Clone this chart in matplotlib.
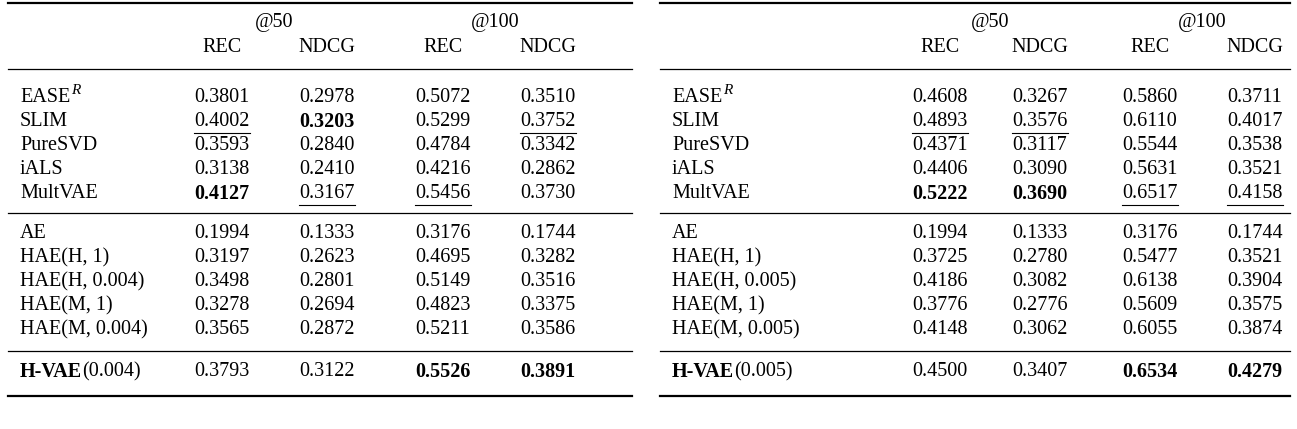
import matplotlib
matplotlib.use("Agg")
import matplotlib.pyplot as plt
from matplotlib.lines import Line2D

W, H = 1297, 429
plt.rcParams['font.family'] = ['Liberation Serif', 'DejaVu Serif']

methods = ["EASE", "SLIM", "PureSVD", "iALS", "MultVAE",
           "AE", "HAE(H, 1)", "HAE(H, {p})", "HAE(M, 1)", "HAE(M, {p})", "H-VAE"]
params = ["0.004", "0.005"]
vals_left = [
    [0.3801, 0.2978, 0.5072, 0.3510],
    [0.4002, 0.3203, 0.5299, 0.3752],
    [0.3593, 0.2840, 0.4784, 0.3342],
    [0.3138, 0.2410, 0.4216, 0.2862],
    [0.4127, 0.3167, 0.5456, 0.3730],
    [0.1994, 0.1333, 0.3176, 0.1744],
    [0.3197, 0.2623, 0.4695, 0.3282],
    [0.3498, 0.2801, 0.5149, 0.3516],
    [0.3278, 0.2694, 0.4823, 0.3375],
    [0.3565, 0.2872, 0.5211, 0.3586],
    [0.3793, 0.3122, 0.5526, 0.3891],
]
vals_right = [
    [0.4608, 0.3267, 0.5860, 0.3711],
    [0.4893, 0.3576, 0.6110, 0.4017],
    [0.4371, 0.3117, 0.5544, 0.3538],
    [0.4406, 0.3090, 0.5631, 0.3521],
    [0.5222, 0.3690, 0.6517, 0.4158],
    [0.1994, 0.1333, 0.3176, 0.1744],
    [0.3725, 0.2780, 0.5477, 0.3521],
    [0.4186, 0.3082, 0.6138, 0.3904],
    [0.3776, 0.2776, 0.5609, 0.3575],
    [0.4148, 0.3062, 0.6055, 0.3874],
    [0.4500, 0.3407, 0.6534, 0.4279],
]
bold_left = [(1, 1), (4, 0), (10, 2), (10, 3)]
under_left = [(1, 0), (1, 3), (4, 1), (4, 2)]
bold_right = [(4, 0), (4, 1), (10, 2), (10, 3)]
under_right = [(1, 0), (1, 1), (4, 2), (4, 3)]

fig = plt.figure(figsize=(W / 100, H / 100), dpi=100)
FS = 14.5

def fx(x): return x / W
def fy(y): return 1 - y / H

def hline(x0, x1, y, lw):
    fig.add_artist(Line2D([fx(x0), fx(x1)], [fy(y), fy(y)], color='black', lw=lw,
                          transform=fig.transFigure))

row_y = [98, 122, 146, 170, 194, 234, 258, 282, 306, 330, 372]
underlines = []

def table(x0, x1, lx, cols, vals, bold, under, param):
    hline(x0, x1, 3, 1.6)
    hline(x0, x1, 69, 0.9)
    hline(x0, x1, 213, 0.9)
    hline(x0, x1, 351, 0.9)
    hline(x0, x1, 396, 1.6)
    fig.text(fx((cols[0] + cols[1]) / 2), fy(22), "@50", ha='center', va='center', fontsize=FS)
    fig.text(fx((cols[2] + cols[3]) / 2), fy(22), "@100", ha='center', va='center', fontsize=FS)
    for c, h in zip(cols, ["REC", "NDCG", "REC", "NDCG"]):
        fig.text(fx(c), fy(47), h, ha='center', va='center', fontsize=FS)
    for i, m in enumerate(methods):
        y = row_y[i]
        if m == "H-VAE":
            t = fig.text(fx(lx), fy(y), "H-VAE", ha='left', va='center', fontsize=FS, fontweight='bold')
            fig.canvas.draw()
            bb = t.get_window_extent()
            fig.text(bb.x1 / W, fy(y), "(" + param + ")", ha='left', va='center', fontsize=FS)
        elif m == "EASE":
            t = fig.text(fx(lx), fy(y), "EASE", ha='left', va='center', fontsize=FS)
            fig.canvas.draw()
            bb = t.get_window_extent()
            fig.text(bb.x1 / W + 0.001, fy(y - 8), "R", ha='left', va='center', fontsize=11, style='italic')
        else:
            fig.text(fx(lx), fy(y), m.replace("{p}", param), ha='left', va='center', fontsize=FS)
        for j, c in enumerate(cols):
            t = fig.text(fx(c), fy(y), f"{vals[i][j]:.4f}", ha='center', va='center', fontsize=FS,
                         fontweight='bold' if (i, j) in bold else 'normal')
            if (i, j) in under:
                underlines.append((t, y))

table(8, 632, 20, [222, 327, 443, 548], vals_left, bold_left, under_left, params[0])
table(660, 1290, 672, [940, 1040, 1150, 1255], vals_right, bold_right, under_right, params[1])

fig.canvas.draw()
for t, y in underlines:
    bb = t.get_window_extent()
    hline(bb.x0, bb.x1, y + 11, 0.8)

fig.savefig("out.png", dpi=100)
